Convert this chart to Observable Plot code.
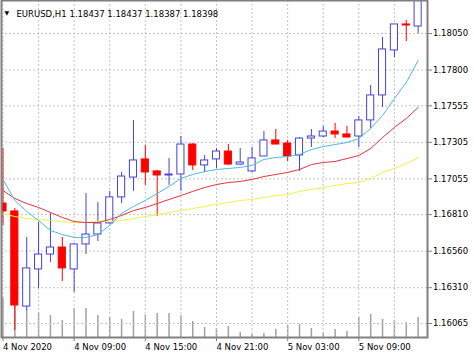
<!DOCTYPE html>
<html>
<head>
<meta charset="utf-8">
<script src="https://cdn.jsdelivr.net/npm/d3@7"></script>
<script src="https://cdn.jsdelivr.net/npm/@observablehq/plot@0.6"></script>
<style>
  body { margin: 0; background: #fff; }
  #wrap { position: relative; width: 474px; height: 355px; overflow: hidden; }
  #wrap svg { position: absolute; left: 0; top: 0; }
</style>
</head>
<body>
<div id="wrap"></div>
<script>
// ---- data (EURUSD H1, 4 Nov 03:00 .. 5 Nov 14:00) ----
const symbolLabel = "EURUSD,H1";
const headerValues = "1.18437 1.18437 1.18387 1.18398";

const open  = [1.16886, 1.16832, 1.16181, 1.16435, 1.16537, 1.16585, 1.16435, 1.16606, 1.16674, 1.16750, 1.16928, 1.17064,
               1.17188, 1.17106, 1.17078, 1.17085, 1.17290, 1.17147, 1.17188, 1.17242, 1.17153, 1.17106, 1.17208, 1.17318,
               1.17297, 1.17215, 1.17331, 1.17345, 1.17379, 1.17359, 1.17345, 1.17455, 1.17626, 1.17934, 1.18112, 1.18098];
const high  = [1.17263, 1.16852, 1.16654, 1.16756, 1.16818, 1.16654, 1.16613, 1.16955, 1.16893, 1.16969, 1.17099, 1.17455,
               1.17284, 1.17112, 1.17195, 1.17345, 1.17297, 1.17215, 1.17263, 1.17290, 1.17263, 1.17270, 1.17379, 1.17393,
               1.17318, 1.17338, 1.17393, 1.17414, 1.17434, 1.17414, 1.17482, 1.17694, 1.18023, 1.18112, 1.18139, 1.18440];
const low   = [1.16736, 1.16017, 1.16154, 1.16305, 1.16483, 1.16353, 1.16277, 1.16537, 1.16626, 1.16743, 1.16886, 1.16969,
               1.17010, 1.16798, 1.17010, 1.16969, 1.17112, 1.17099, 1.17126, 1.17147, 1.17147, 1.17099, 1.17208, 1.17290,
               1.17174, 1.17106, 1.17270, 1.17338, 1.17331, 1.17338, 1.17270, 1.17400, 1.17544, 1.17886, 1.17995, 1.18050];
const close = [1.16832, 1.16188, 1.16442, 1.16537, 1.16585, 1.16442, 1.16606, 1.16674, 1.16750, 1.16928, 1.17071, 1.17181,
               1.17099, 1.17078, 1.17085, 1.17290, 1.17147, 1.17181, 1.17242, 1.17153, 1.17167, 1.17195, 1.17318, 1.17290,
               1.17208, 1.17331, 1.17345, 1.17379, 1.17359, 1.17338, 1.17455, 1.17626, 1.17941, 1.18112, 1.18105, 1.18430];
const volume = [3900, 3900, 2800, 2500, 2200, 1700, 2900, 2900, 2200, 2000, 1800, 2600,
                2200, 2400, 2400, 2200, 1600, 1000,  900, 1100,  500,  300,  400,  800,
                1200, 1300,  900,  500,  800,  600, 2000, 2300, 1800, 1700, 1500, 2000];

const maFast = [1.17051, 1.16907, 1.16832, 1.16770, 1.16702, 1.16674, 1.16654, 1.16654, 1.16674, 1.16736, 1.16818, 1.16866,
                1.16907, 1.16955, 1.17003, 1.17058, 1.17085, 1.17105, 1.17119, 1.17126, 1.17133, 1.17147, 1.17188, 1.17201,
                1.17208, 1.17222, 1.17256, 1.17276, 1.17290, 1.17304, 1.17331, 1.17400, 1.17489, 1.17605, 1.17715, 1.17865];
const maMid  = [1.16975, 1.16921, 1.16886, 1.16859, 1.16825, 1.16791, 1.16763, 1.16756, 1.16756, 1.16777, 1.16804, 1.16838,
                1.16859, 1.16886, 1.16914, 1.16941, 1.16969, 1.16996, 1.17016, 1.17030, 1.17037, 1.17051, 1.17071, 1.17085,
                1.17099, 1.17119, 1.17153, 1.17167, 1.17174, 1.17194, 1.17215, 1.17263, 1.17338, 1.17407, 1.17468, 1.17544];
const maSlow = [1.16818, 1.16797, 1.16784, 1.16777, 1.16770, 1.16763, 1.16756, 1.16756, 1.16763, 1.16763, 1.16770, 1.16784,
                1.16797, 1.16811, 1.16825, 1.16838, 1.16852, 1.16866, 1.16880, 1.16893, 1.16907, 1.16914, 1.16927, 1.16941,
                1.16948, 1.16969, 1.16982, 1.16996, 1.17010, 1.17023, 1.17030, 1.17058, 1.17099, 1.17126, 1.17160, 1.17201];

const yTicks = [1.16065, 1.16310, 1.16560, 1.16810, 1.17055, 1.17305, 1.17555, 1.17800, 1.18050];
const yTickLabels = ["1.16065", "1.16310", "1.16560", "1.16810", "1.17055", "1.17305", "1.17555", "1.17800", "1.18050"];
const xTickIndex = [0, 6, 12, 18, 24, 30];
const xTickLabels = ["4 Nov 2020", "4 Nov 09:00", "4 Nov 15:00", "4 Nov 21:00", "5 Nov 03:00", "5 Nov 09:00"];
const xGridIndex = [0, 3, 6, 9, 12, 15, 18, 21, 24, 27, 30, 33];

// ---- build table ----
const bars = open.map((o, i) => ({
  i, open: o, high: high[i], low: low[i], close: close[i], volume: volume[i],
  maFast: maFast[i], maMid: maMid[i], maSlow: maSlow[i]
}));
const upBars = bars.filter(d => d.close >= d.open);
const downBars = bars.filter(d => d.close < d.open);

const BULL = "#4343d6", BEAR = "#ff0000";
const FONT = "DejaVu Sans";
const FS = 8.5;
const layout = {
  width: 474, height: 355,
  marginLeft: 1, marginRight: 47, marginTop: 0, marginBottom: 18
};
const xDomain = [-0.126, 35.79];

// volume layer (own scale, underneath)
const volPlot = Plot.plot({
  ...layout,
  style: { background: "white" },
  x: { domain: xDomain, axis: null },
  y: { domain: [0, 33700], axis: null },
  marks: [
    Plot.ruleX(bars, { x: "i", y1: 0, y2: "volume", stroke: "#a2a2a2", strokeWidth: 1.5, clip: true })
  ]
});

// price layer
const main = Plot.plot({
  ...layout,
  style: { background: "transparent", fontFamily: FONT, fontSize: FS + "px", color: "#000", overflow: "visible" },
  x: { domain: xDomain, axis: null },
  y: { domain: [1.15969, 1.18276], axis: null },
  marks: [
    Plot.ruleX(xGridIndex, { x: d => d, stroke: "#c4c4c4", strokeDasharray: "2,2" }),
    Plot.ruleY(yTicks, { y: d => d, stroke: "#c4c4c4", strokeDasharray: "2,2" }),
    // wicks
    Plot.ruleX(upBars, { x: "i", y1: "low", y2: "high", stroke: BULL, strokeWidth: 1, clip: true }),
    Plot.ruleX(downBars, { x: "i", y1: "low", y2: "high", stroke: BEAR, strokeWidth: 1, clip: true }),
    // bodies
    Plot.rect(upBars, { x1: d => d.i - 0.3, x2: d => d.i + 0.3, y1: "open", y2: "close",
                        fill: "white", stroke: BULL, strokeWidth: 1, clip: true }),
    Plot.rect(downBars, { x1: d => d.i - 0.3, x2: d => d.i + 0.3, y1: "open", y2: "close",
                          fill: BEAR, stroke: BEAR, strokeWidth: 1, clip: true }),
    // moving averages
    Plot.line(bars, { x: "i", y: "maSlow", stroke: "#f0f048", strokeWidth: 1, clip: true }),
    Plot.line(bars, { x: "i", y: "maMid", stroke: "#e6323e", strokeWidth: 1, clip: true }),
    Plot.line(bars, { x: "i", y: "maFast", stroke: "#4fb8e6", strokeWidth: 1, clip: true }),
    // frame / axis lines
    Plot.frame({ stroke: "#808080", strokeWidth: 2 }),
    // axes
    Plot.axisY(yTicks, {
      anchor: "right", tickSize: 4, tickPadding: 1.5, stroke: "#808080", fill: "#000",
      tickFormat: d => yTickLabels[yTicks.indexOf(d)], label: null, fontSize: FS
    }),
    Plot.axisX(xTickIndex, {
      anchor: "bottom", tickSize: 4, tickPadding: 2, stroke: "#808080", fill: "#000",
      textAnchor: "start", dx: 0,
      tickFormat: d => xTickLabels[xTickIndex.indexOf(d)], label: null, fontSize: FS
    }),
    // header
    Plot.text(["\u25BC"], { text: d => d, frameAnchor: "top-left", dx: 3, dy: 10, textAnchor: "start", fontSize: 6, fill: "#000" }),
    Plot.text([symbolLabel], { text: d => d, frameAnchor: "top-left", dx: 15, dy: 10, textAnchor: "start", fill: "#000", fontSize: FS }),
    Plot.text([headerValues], { text: d => d, frameAnchor: "top-left", dx: 68, dy: 10, textAnchor: "start", fill: "#000", fontSize: FS })
  ]
});

const wrap = document.getElementById("wrap");
wrap.appendChild(volPlot);
wrap.appendChild(main);
</script>
</body>
</html>
